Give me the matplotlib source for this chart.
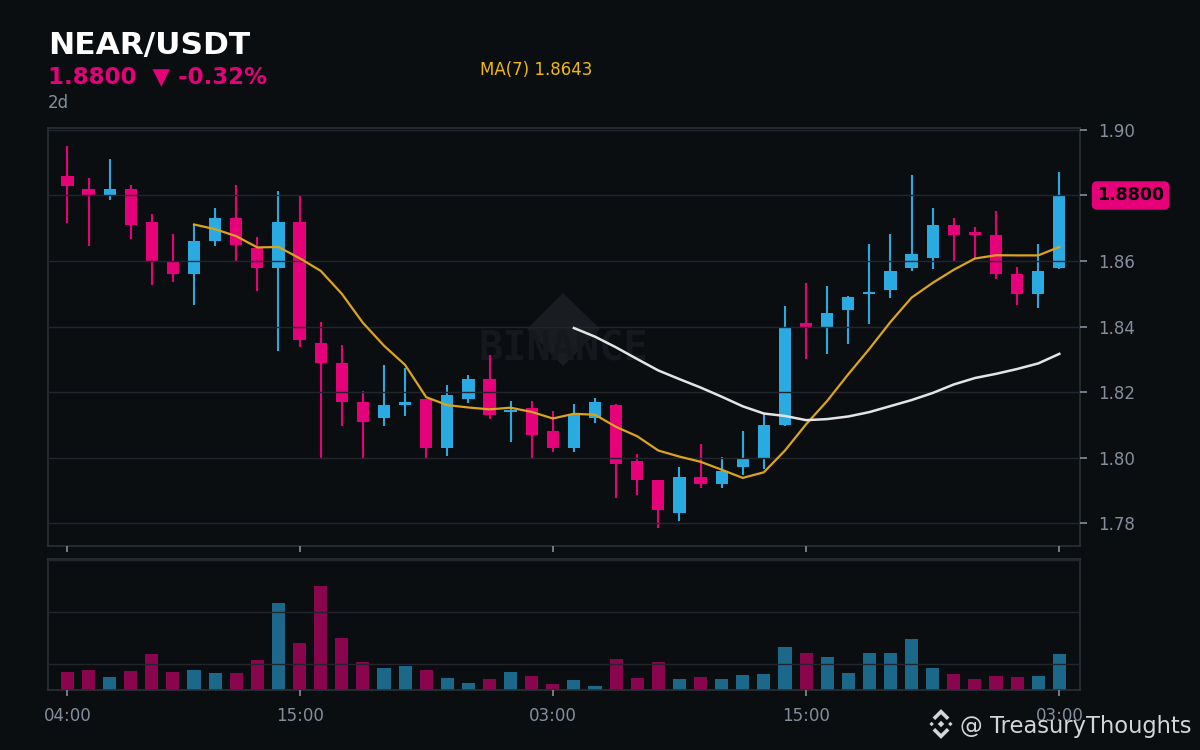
import matplotlib
matplotlib.use("Agg")
import matplotlib.pyplot as plt
from matplotlib.patches import Polygon
import numpy as np
import pandas as pd

# hourly NEAR/USDT candles, 04:00 day 1 .. 03:00 day 3
opens = [1.886, 1.882, 1.880, 1.882, 1.872, 1.860, 1.856, 1.866, 1.873, 1.864,
         1.858, 1.872, 1.835, 1.829, 1.817, 1.812, 1.816, 1.818, 1.803, 1.818,
         1.824, 1.8140, 1.815, 1.808, 1.803, 1.812, 1.816, 1.799, 1.793, 1.783,
         1.794, 1.792, 1.797, 1.800, 1.810, 1.841, 1.840, 1.845, 1.8500, 1.851,
         1.858, 1.861, 1.871, 1.869, 1.868, 1.856, 1.850, 1.858]
highs = [1.8951, 1.8853, 1.8911, 1.8832, 1.8743, 1.8682, 1.8713, 1.8762, 1.8832, 1.8673,
         1.8814, 1.8802, 1.8414, 1.8344, 1.8203, 1.8282, 1.8273, 1.8180, 1.8221, 1.8252,
         1.8313, 1.8173, 1.8173, 1.8142, 1.8163, 1.8182, 1.8163, 1.8011, 1.7931, 1.7971,
         1.8041, 1.8002, 1.8081, 1.8133, 1.8463, 1.8532, 1.8524, 1.8493, 1.8652, 1.8682,
         1.8863, 1.8762, 1.8731, 1.8704, 1.8753, 1.8582, 1.8652, 1.8872]
lows = [1.8717, 1.8647, 1.8786, 1.8668, 1.8528, 1.8537, 1.8467, 1.8647, 1.8598, 1.8507,
        1.8326, 1.8338, 1.7995, 1.8097, 1.7995, 1.8097, 1.8128, 1.7995, 1.8006, 1.8166,
        1.8119, 1.8049, 1.7995, 1.8018, 1.8018, 1.8107, 1.7878, 1.7887, 1.7786, 1.7807,
        1.7908, 1.7908, 1.7947, 1.7966, 1.8097, 1.8300, 1.8317, 1.8348, 1.8409, 1.8488,
        1.8568, 1.8577, 1.8598, 1.8607, 1.8546, 1.8467, 1.8458, 1.8577]
closes = [1.883, 1.880, 1.882, 1.871, 1.860, 1.856, 1.866, 1.873, 1.865, 1.858,
          1.872, 1.836, 1.829, 1.817, 1.811, 1.816, 1.817, 1.803, 1.819, 1.824,
          1.813, 1.8145, 1.807, 1.803, 1.813, 1.817, 1.798, 1.793, 1.784, 1.794,
          1.792, 1.796, 1.7995, 1.810, 1.8395, 1.840, 1.844, 1.849, 1.8503, 1.857,
          1.862, 1.871, 1.868, 1.868, 1.856, 1.850, 1.857, 1.880]
volumes = [0.35, 0.38, 0.25, 0.37, 0.69, 0.35, 0.38, 0.33, 0.33, 0.58,
           1.67, 0.90, 2.00, 1.00, 0.54, 0.42, 0.46, 0.38, 0.23, 0.13,
           0.21, 0.35, 0.27, 0.12, 0.19, 0.08, 0.60, 0.23, 0.54, 0.21,
           0.25, 0.21, 0.29, 0.31, 0.83, 0.71, 0.64, 0.33, 0.71, 0.71,
           0.98, 0.42, 0.31, 0.21, 0.27, 0.25, 0.27, 0.69]

tick_pos = [0, 11, 23, 35, 47]
tick_labels = ["04:00", "15:00", "03:00", "15:00", "03:00"]
price_ticks = [1.78, 1.80, 1.82, 1.84, 1.86, 1.88, 1.90]

BG = "#0b0e11"
UP = "#29abe2"
DOWN = "#e6007a"
GRID = "#22262c"
SPINE = "#2b3036"
TXT = "#848e9c"
MA7_C = "#dba41c"
MA25_C = "#e4e4e4"

o = np.array(opens)
h = np.array(highs)
l = np.array(lows)
c = np.array(closes)
x = np.arange(len(c))
up = c >= o
cols = np.where(up, UP, DOWN)
ma7 = pd.Series(c).rolling(7).mean().to_numpy()
ma25 = pd.Series(c).rolling(25).mean().to_numpy()

fig = plt.figure(figsize=(12, 7.5), dpi=100, facecolor=BG)

# background layer in pixel coordinates (watermarks)
bg = fig.add_axes([0, 0, 1, 1], zorder=0)
bg.set_xlim(0, 1200)
bg.set_ylim(750, 0)
bg.axis("off")
bg.add_patch(Polygon([(563, 293), (600, 329), (563, 366), (527, 329)],
                     closed=True, fc="#191c20", ec="none"))
bg.text(563, 349, "BINANCE", ha="center", va="center", fontsize=29,
        fontweight="bold", family="DejaVu Sans Mono", color="#15181c")

ax = fig.add_axes([48 / 1200, 1 - 546 / 750, 1032 / 1200, 418 / 750], zorder=1)
axv = fig.add_axes([48 / 1200, 1 - 690 / 750, 1032 / 1200, 131 / 750], zorder=1)

for a in (ax, axv):
    a.set_facecolor("none")
    for s in a.spines.values():
        s.set_color(SPINE)
        s.set_linewidth(1.2)
    a.set_xlim(-0.92, 47.98)
    a.set_xticks(tick_pos)
    a.tick_params(axis="x", colors=TXT, length=4, width=1.2, labelsize=12, pad=8)
    a.grid(axis="y", color=GRID, lw=1)
    a.set_axisbelow(False)

# candles
body_lo = np.minimum(o, c)
body_h = np.maximum(np.abs(c - o), 0.0004)
ax.vlines(x, l, h, colors=cols, lw=1.5, zorder=2)
ax.bar(x, body_h, bottom=body_lo, width=0.58, color=cols, zorder=2)
ax.plot(x, ma7, color=MA7_C, lw=1.6, zorder=3)
ax.plot(x, ma25, color=MA25_C, lw=1.8, zorder=3)

ax.set_ylim(1.7730, 1.9006)
ax.yaxis.tick_right()
ax.set_yticks(price_ticks)
ax.set_yticklabels([f"{t:.2f}" if abs(t - 1.88) > 1e-9 else "" for t in price_ticks])
ax.tick_params(axis="y", colors=TXT, length=5, width=1.2, labelsize=12, pad=8)
ax.set_xticklabels([])

last = closes[-1]
ax.text(1.0165, last, f"{last:.4f}", transform=ax.get_yaxis_transform(),
        ha="left", va="center", fontsize=12.5, fontweight="bold", color="#000000",
        bbox=dict(boxstyle="round,pad=0.3,rounding_size=0.3", fc=DOWN, ec="none"),
        clip_on=False, zorder=6)

# volume
vcols = np.where(up, UP, DOWN)
axv.bar(x, volumes, width=0.62, color=vcols, alpha=0.58, zorder=2)
axv.set_ylim(0, 2.52)
axv.set_yticks([0.5, 1.5, 2.5])
axv.tick_params(axis="y", left=False, right=False, labelleft=False)
axv.set_xticklabels(tick_labels)

# header
fig.text(48 / 1200, 1 - 54 / 750, "NEAR/USDT", color="white", fontsize=22.5,
         fontweight="bold", va="baseline", ha="left")
fig.text(48 / 1200, 1 - 83.5 / 750, f"{last:.4f}  \u25bc -0.32%", color=DOWN,
         fontsize=16.5, fontweight="bold", va="baseline", ha="left")
fig.text(48 / 1200, 1 - 108 / 750, "2d", color=TXT, fontsize=12,
         va="baseline", ha="left")
fig.text(480 / 1200, 1 - 75 / 750, f"MA(7) {ma7[-1]:.4f}", color="#f0b90b",
         fontsize=12, va="baseline", ha="left")

# bottom-right credit with small logo
top = fig.add_axes([0, 0, 1, 1], zorder=5)
top.set_xlim(0, 1200)
top.set_ylim(750, 0)
top.axis("off")
lc, cx, cy, s = "#d5d5d5", 941, 724, 13
top.add_patch(Polygon([(cx, cy - 0.25 * s), (cx + 0.25 * s, cy), (cx, cy + 0.25 * s),
                       (cx - 0.25 * s, cy)], fc=lc, ec="none"))
for dx in (-0.72, 0.72):
    top.add_patch(Polygon([(cx + dx * s, cy - 0.17 * s), (cx + dx * s + 0.17 * s, cy),
                           (cx + dx * s, cy + 0.17 * s), (cx + dx * s - 0.17 * s, cy)],
                          fc=lc, ec="none"))
for sg in (-1, 1):
    top.plot([cx - 0.45 * s, cx, cx + 0.45 * s],
             [cy + sg * 0.5 * s, cy + sg * 0.95 * s, cy + sg * 0.5 * s],
             color=lc, lw=2.6, solid_joinstyle="miter")
top.text(960, 733, "@ TreasuryThoughts", color=lc, fontsize=16.3,
         va="baseline", ha="left")

fig.savefig("out.png", dpi=100, facecolor=BG)
